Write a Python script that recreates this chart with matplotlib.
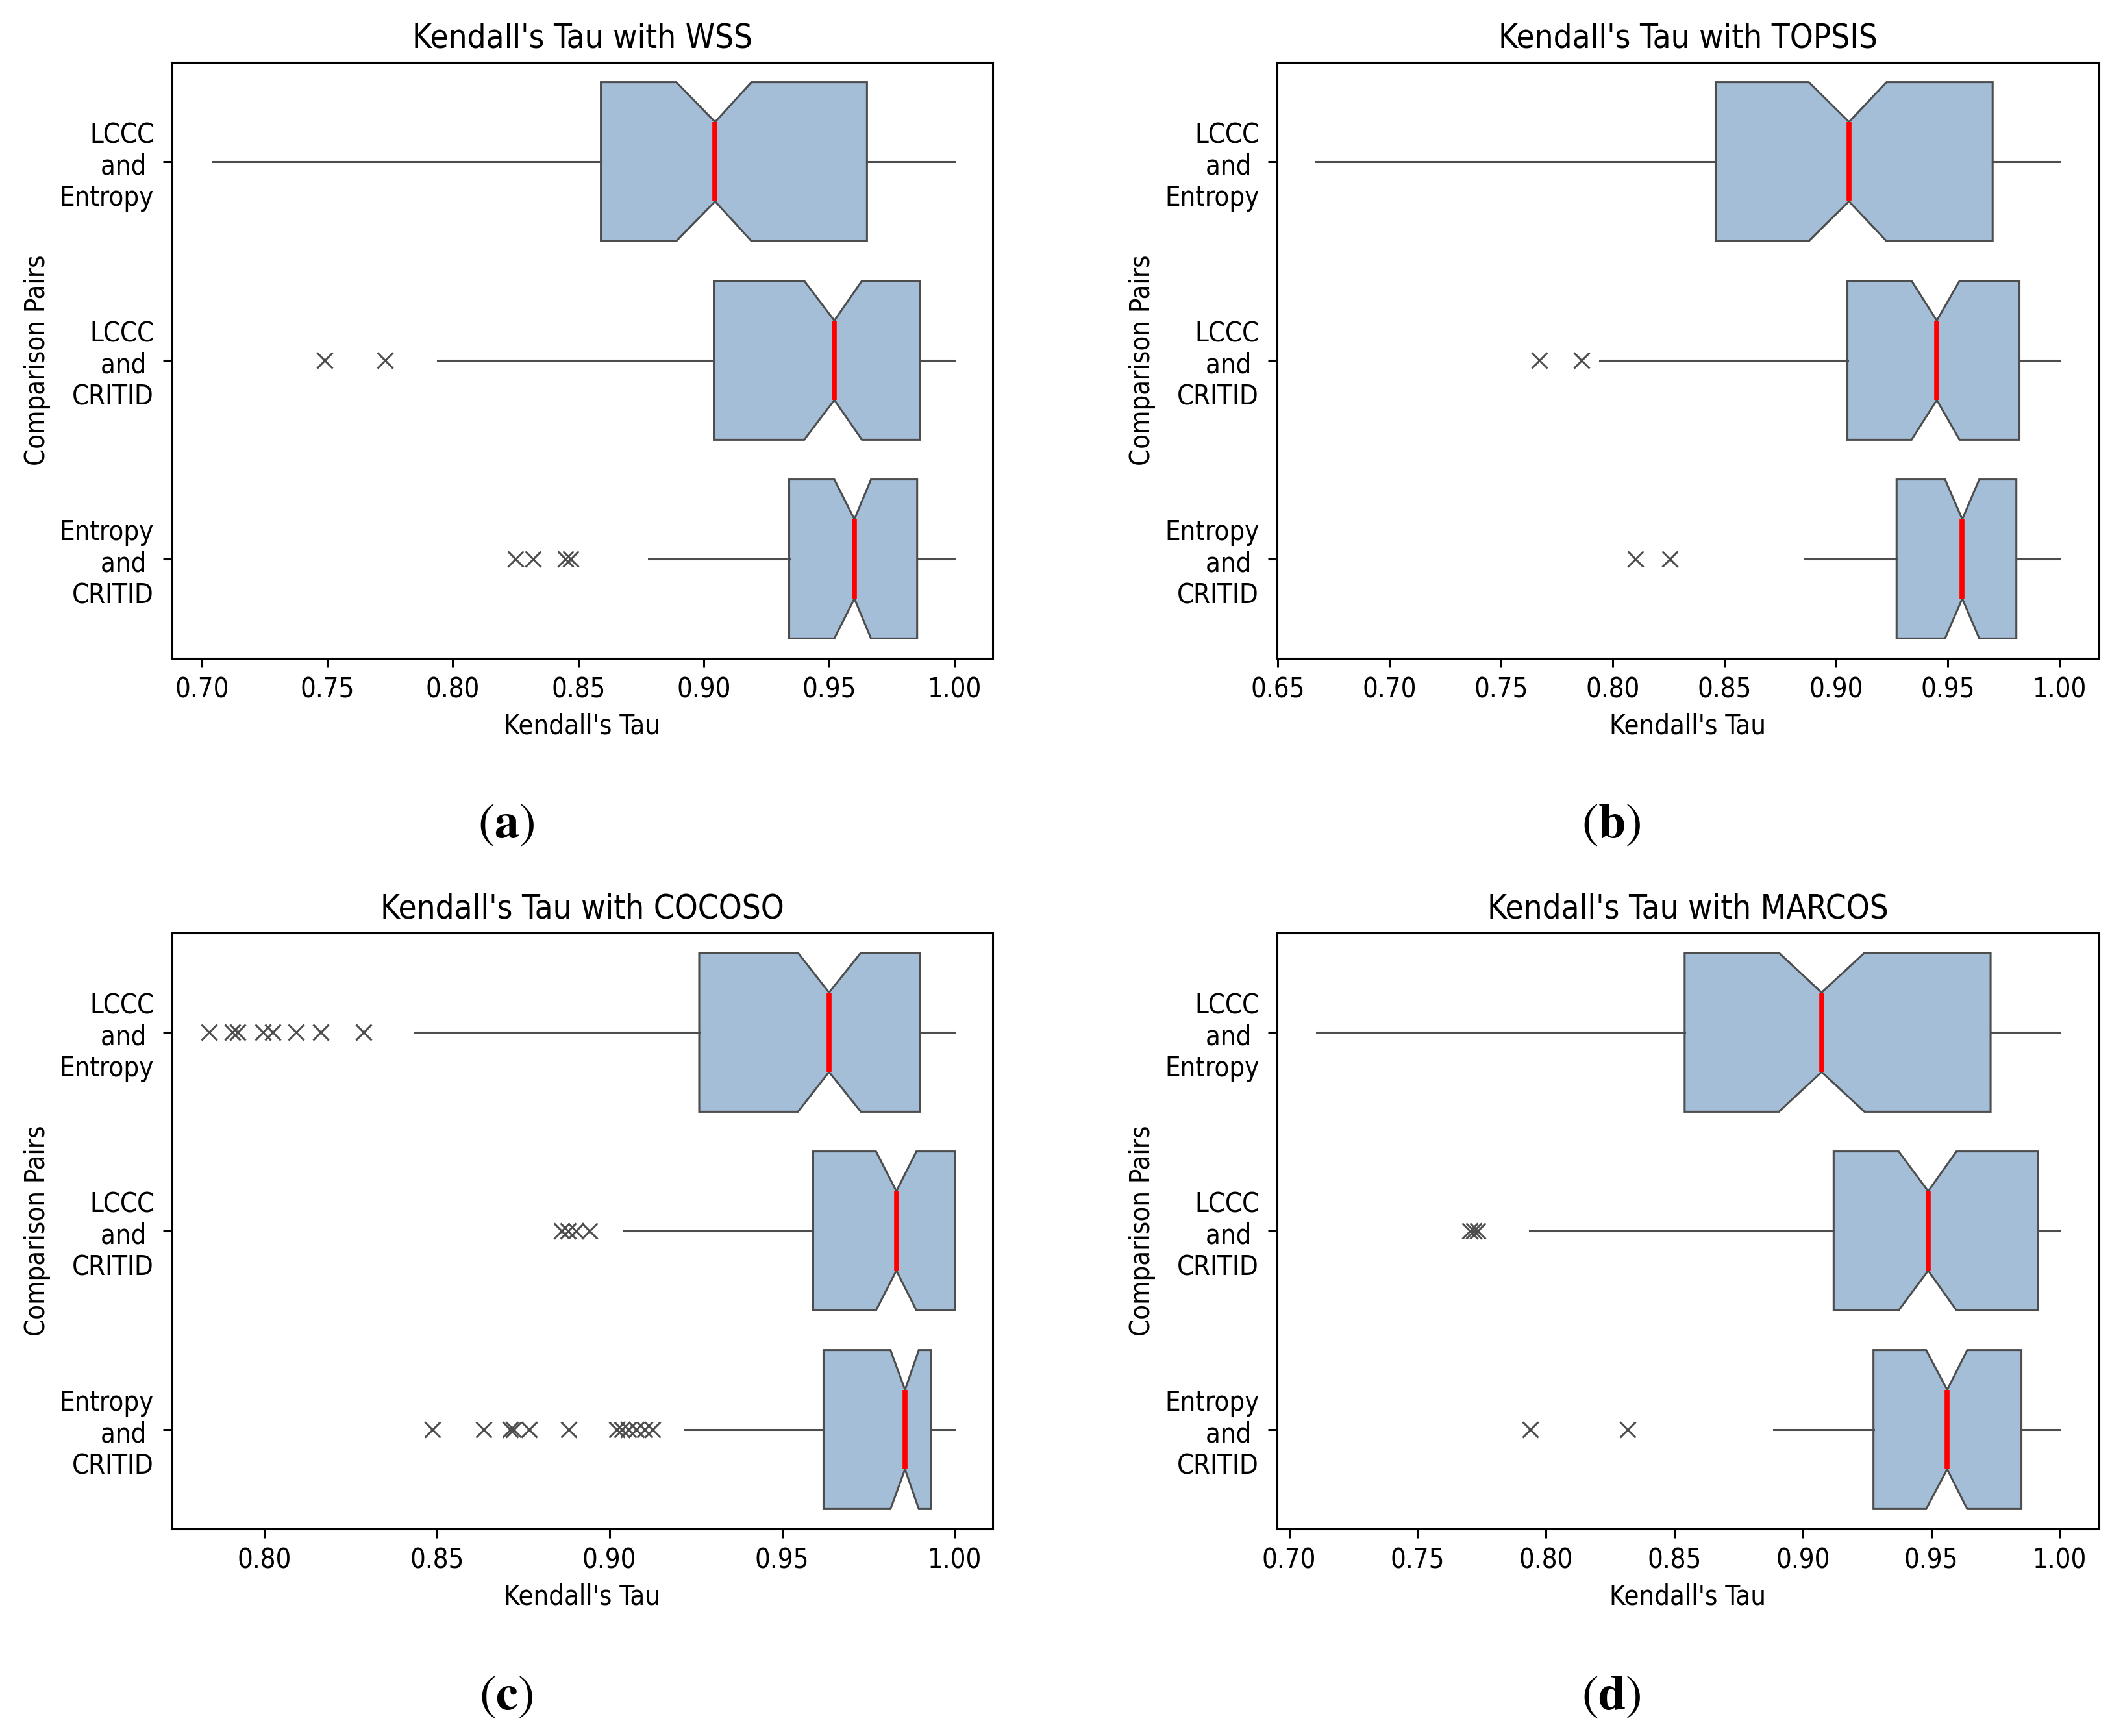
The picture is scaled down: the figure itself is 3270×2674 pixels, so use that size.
import matplotlib
matplotlib.use("Agg")
import matplotlib.pyplot as plt
from matplotlib.ticker import MultipleLocator, FormatStrFormatter

plt.rcParams["font.family"] = "DejaVu Sans"
plt.rcParams["font.stretch"] = "condensed"
plt.rcParams["mathtext.fontset"] = "stix"

methods = ["WSS", "TOPSIS", "COCOSO", "MARCOS"]
pairs = ["LCCC\nand \nEntropy", "LCCC\nand \nCRITID", "Entropy\nand \nCRITID"]
panel_tags = ["a", "b", "c", "d"]

# box statistics, rows = methods, cols = pairs
q1 = [[0.859, 0.904, 0.934],
      [0.846, 0.905, 0.927],
      [0.926, 0.959, 0.962],
      [0.854, 0.912, 0.9275]]
med = [[0.9045, 0.952, 0.960],
       [0.9057, 0.945, 0.9564],
       [0.9636, 0.9831, 0.9856],
       [0.9073, 0.9488, 0.9562]]
q3 = [[0.965, 0.986, 0.985],
      [0.970, 0.982, 0.9806],
      [0.990, 1.000, 0.9931],
      [0.9731, 0.9915, 0.9851]]
notch_lo = [[0.889, 0.940, 0.952],
            [0.8877, 0.9337, 0.9487],
            [0.9546, 0.9772, 0.9814],
            [0.8907, 0.9373, 0.948]]
notch_hi = [[0.919, 0.963, 0.9666],
            [0.9225, 0.9552, 0.964],
            [0.9728, 0.9889, 0.9896],
            [0.924, 0.9598, 0.964]]
whis_lo = [[0.7045, 0.794, 0.878],
           [0.6668, 0.794, 0.886],
           [0.8437, 0.9042, 0.9216],
           [0.7107, 0.7937, 0.8886]]
whis_hi = [[1.0, 1.0, 1.0],
           [1.0, 1.0, 1.0],
           [1.0, 1.0, 1.0],
           [1.0, 1.0, 1.0]]
fliers = [
    [[], [0.749, 0.773], [0.825, 0.832, 0.845, 0.847]],
    [[], [0.767, 0.786], [0.810, 0.8255]],
    [[0.7841, 0.7908, 0.7923, 0.7997, 0.8025, 0.8092, 0.8164, 0.8287],
     [0.8862, 0.8881, 0.8903, 0.8943],
     [0.8487, 0.8636, 0.8713, 0.8723, 0.8768, 0.8882,
      0.9022, 0.9037, 0.9056, 0.9078, 0.9103, 0.9125]],
    [[], [0.7705, 0.772, 0.7735], [0.7939, 0.8318]],
]
x_limits = [(0.6881, 1.0151), (0.6497, 1.0176), (0.7733, 1.0110), (0.6953, 1.0153)]

BOX = "#a4bed8"
LINE = "#4d4d4d"
FS = 30

fig = plt.figure(figsize=(32.7, 26.74), dpi=100, facecolor="white")
rects = [[0.0810, 0.6208, 0.3866, 0.3433],
         [0.6015, 0.6208, 0.3872, 0.3433],
         [0.0810, 0.1193, 0.3866, 0.3433],
         [0.6015, 0.1193, 0.3872, 0.3433]]
tag_pos = [(0.2385, 0.5243), (0.759, 0.5243), (0.2385, 0.022), (0.759, 0.022)]

for m, method in enumerate(methods):
    ax = fig.add_axes(rects[m])
    stats = []
    for p in range(len(pairs)):
        stats.append(dict(med=med[m][p], q1=q1[m][p], q3=q3[m][p],
                          whislo=whis_lo[m][p], whishi=whis_hi[m][p],
                          cilo=notch_lo[m][p], cihi=notch_hi[m][p],
                          fliers=fliers[m][p]))
    ax.bxp(stats, positions=[0, 1, 2], widths=0.8, orientation="horizontal",
           shownotches=True, showcaps=False, patch_artist=True,
           boxprops=dict(facecolor=BOX, edgecolor=LINE, linewidth=2.2),
           whiskerprops=dict(color=LINE, linewidth=2.2),
           medianprops=dict(color="red", linewidth=5.5),
           flierprops=dict(marker="x", markersize=17, markeredgecolor=LINE,
                           markeredgewidth=2.2, linestyle="none"))
    ax.set_ylim(2.5, -0.5)
    ax.set_xlim(*x_limits[m])
    ax.set_yticks([0, 1, 2])
    ax.set_yticklabels(pairs)
    ax.xaxis.set_major_locator(MultipleLocator(0.05))
    ax.xaxis.set_major_formatter(FormatStrFormatter("%.2f"))
    ax.tick_params(labelsize=FS, length=10, width=2.2, pad=10)
    for s in ax.spines.values():
        s.set_linewidth(2.2)
    ax.set_xlabel("Kendall's Tau", fontsize=FS, labelpad=10)
    ax.set_ylabel("Comparison Pairs", fontsize=FS, labelpad=10)
    ax.set_title(f"Kendall's Tau with {method}", fontsize=FS * 1.22, pad=16)

    tx, ty = tag_pos[m]
    fig.text(tx, ty, "($\\mathbf{" + panel_tags[m] + "}$)", fontsize=55,
             family="STIXGeneral", ha="center", va="center")

fig.savefig("out.png", dpi=100, facecolor="white")
